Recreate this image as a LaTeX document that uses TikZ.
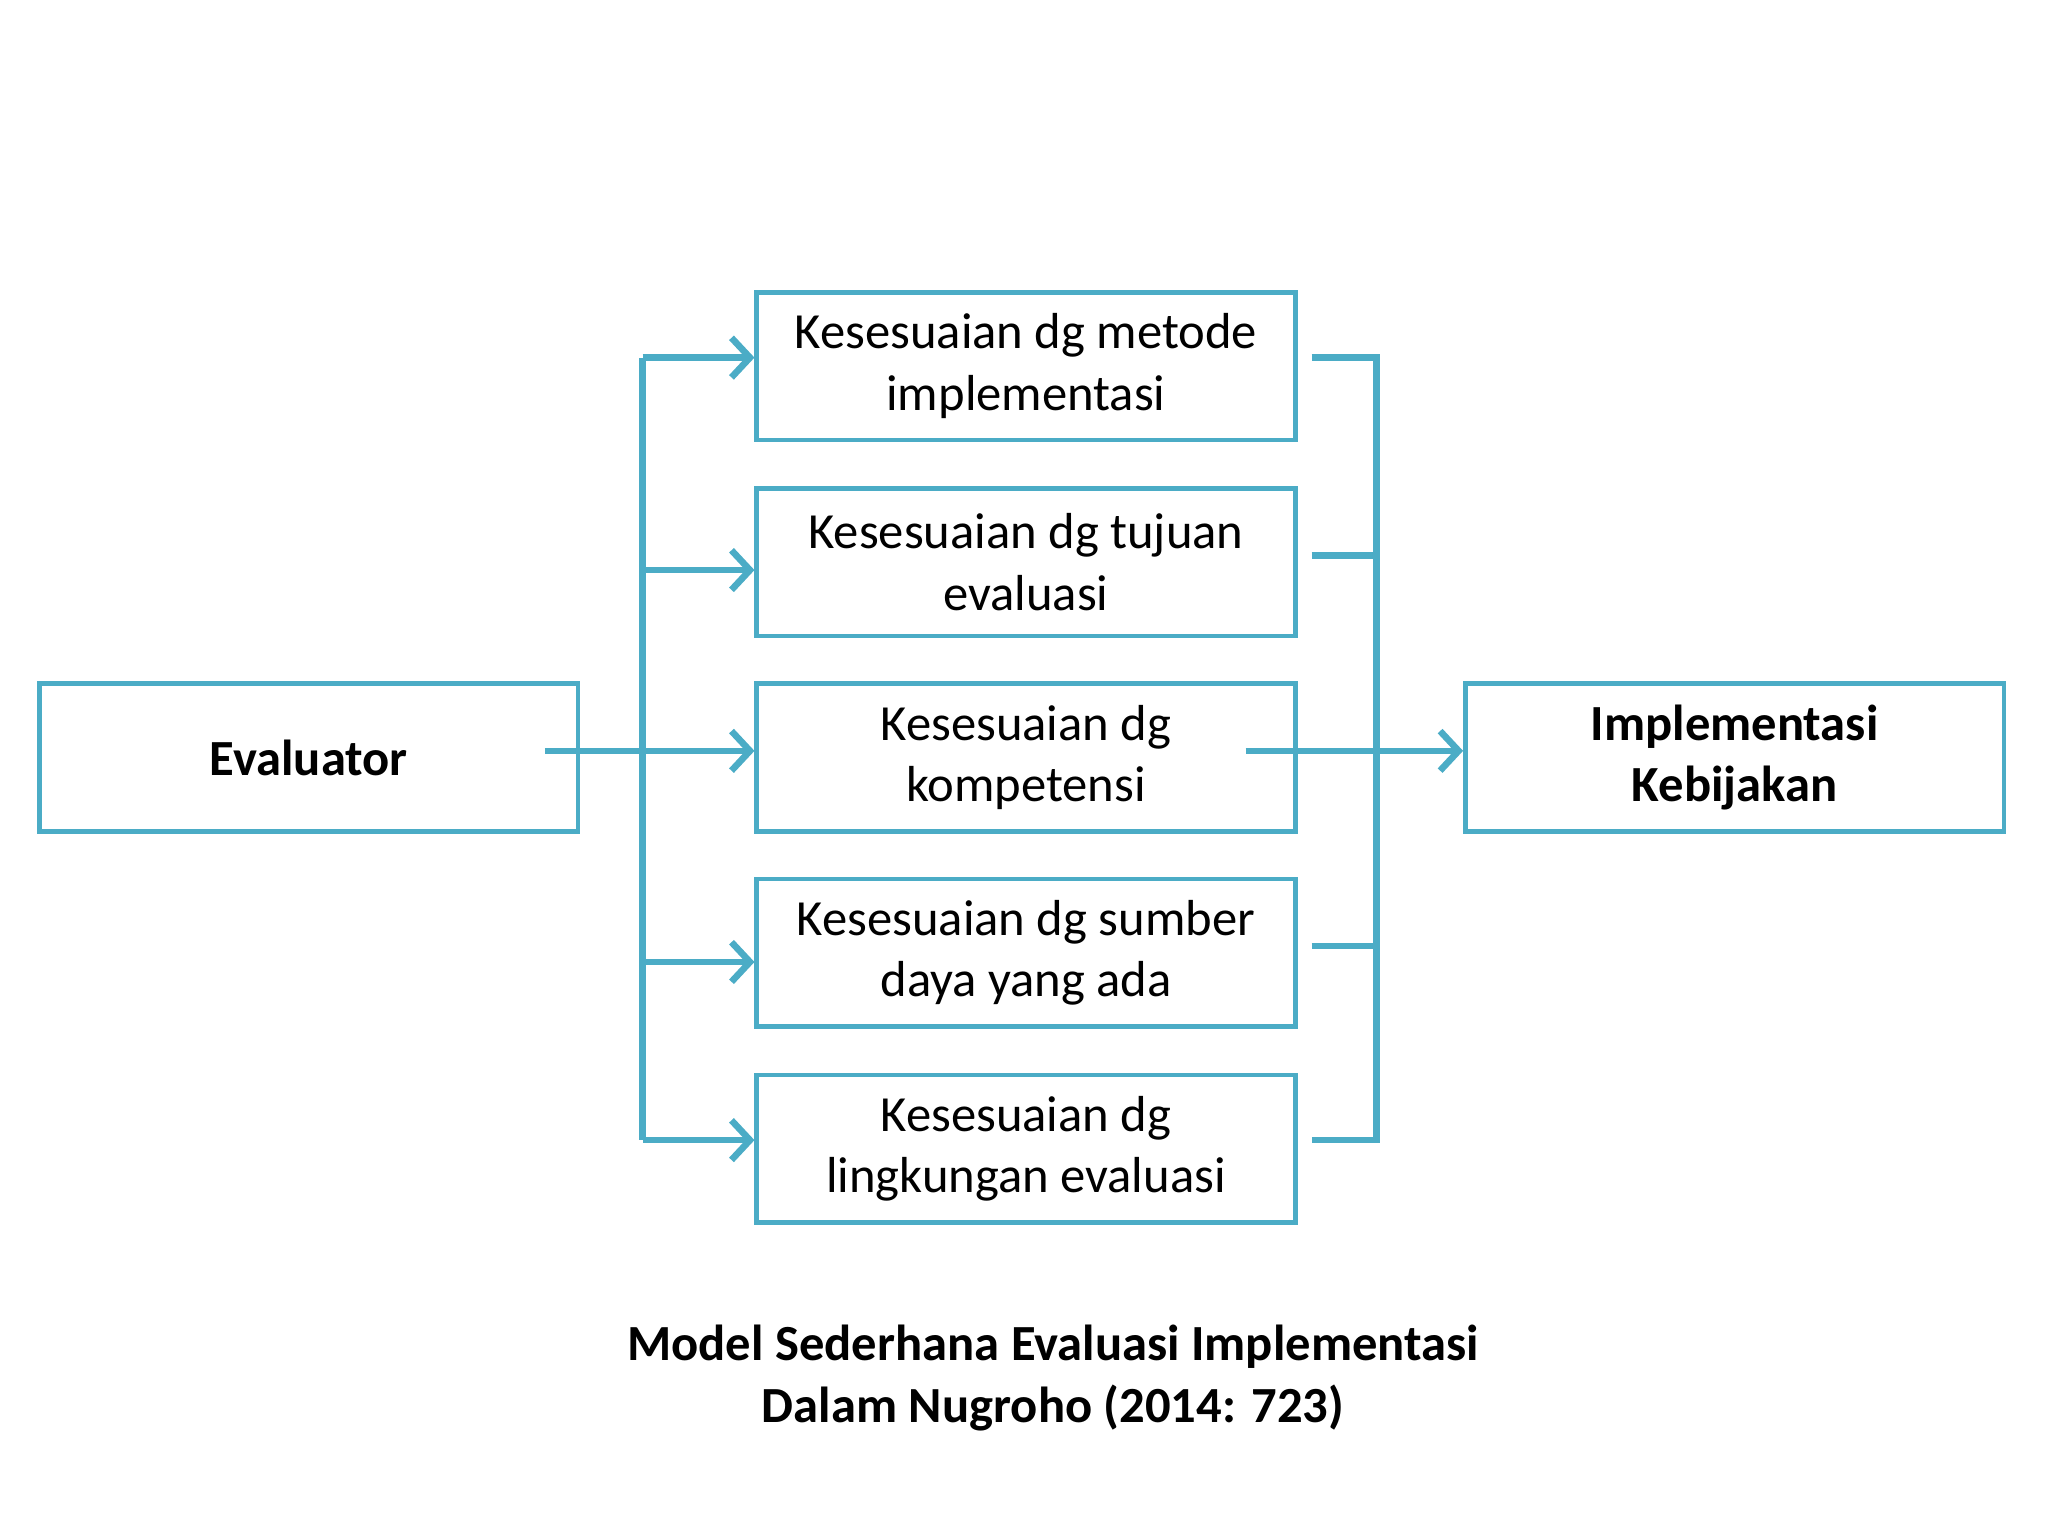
\documentclass[tikz,border=0pt]{standalone}
\usepackage{fontspec}
\setmainfont{Carlito}
\usetikzlibrary{arrows.meta}
\definecolor{cy}{HTML}{4BACC6}
\begin{document}
\begin{tikzpicture}[x=1bp,y=-1bp,
  bx/.style={draw=cy,line width=3.5bp,minimum width=408bp,minimum height=112bp,align=center,font=\fontsize{38.5}{47}\selectfont,inner sep=0pt},
  ln/.style={draw=cy,line width=5bp},
  ar/.style={ln,-{Straight Barb[length=14bp,width=30bp,line width=5bp]}}]
\useasboundingbox (0,0) rectangle (1552,1164);
\node[bx,font=\fontsize{38.5}{47}\selectfont\bfseries] (ev) at (234,574) {Evaluator};
\node[bx] (b1) at (777.5,277.5) {Kesesuaian dg metode\\implementasi};
\node[bx] (b2) at (777.5,426) {Kesesuaian dg tujuan\\evaluasi};
\node[bx] (b3) at (777.5,574) {Kesesuaian dg\\kompetensi};
\node[bx] (b4) at (777.5,722) {Kesesuaian dg sumber\\daya yang ada};
\node[bx] (b5) at (777.5,870.5) {Kesesuaian dg\\lingkungan evaluasi};
\node[bx,font=\fontsize{38.5}{47}\selectfont\bfseries] (im) at (1314.5,574) {Implementasi\\Kebijakan};
\coordinate (lt) at (487,271);
\coordinate (lb) at (487,864);
\coordinate (rt) at (1043,271);
\coordinate (rb) at (1043,864);
\draw[ln] (lt) -- (lb);
\draw[ar] (lt) -- (b1.west|-lt);
\draw[ar] (487,432) -- (b2.west|-0,432);
\draw[ar] (413,569) -- (b3.west|-0,569);
\draw[ar] (487,729) -- (b4.west|-0,729);
\draw[ar] (lb) -- (b5.west|-lb);
\draw[ln] (994,271) -- (rt) -- (rb) -- (994,864);
\draw[ln] (994,421) -- (1043,421);
\draw[ln] (994,717) -- (1043,717);
\draw[ar] (944,569) -- (im.west|-0,569);
\node[font=\fontsize{38.5}{47}\selectfont\bfseries,align=center] (cap) at (798,1044) {Model Sederhana Evaluasi Implementasi\\Dalam Nugroho (2014: 723)};
\end{tikzpicture}
\end{document}
